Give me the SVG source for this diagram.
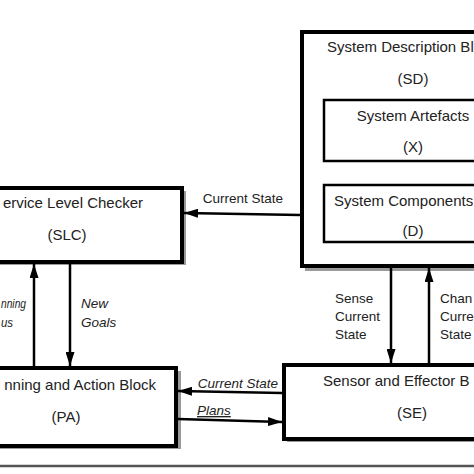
<svg xmlns="http://www.w3.org/2000/svg" width="474" height="474" viewBox="0 0 474 474">
<defs>
<marker id="ah" markerWidth="14" markerHeight="9" refX="14" refY="4.5" orient="auto" markerUnits="userSpaceOnUse">
<path d="M0,0 L14,4.5 L0,9 Z" fill="#000"/>
</marker>
<style>
.box{fill:#fff;stroke:#000;stroke-width:4}
.inner{fill:#fff;stroke:#000;stroke-width:2.5}
.sh{fill:#9a9a9a}
.t{font-family:"Liberation Sans",Arial,sans-serif;font-size:15px;fill:#222;text-anchor:middle}
.s{text-anchor:start}
.e{text-anchor:end}
.l{font-family:"Liberation Sans",Arial,sans-serif;font-size:13.5px;fill:#222}
.i{font-style:italic}
.c{fill:none;stroke:#000;stroke-width:2.5}
</style>
</defs>
<rect width="474" height="474" fill="#fff"/>
<g id="SD">
<rect class="sh" x="305" y="34" width="180" height="237"/>
<rect class="box" x="302" y="32" width="180" height="234"/>
<text class="t s" x="327" y="52">System Description Bl</text>
<text class="t" x="413" y="84">(SD)</text>
</g>
<g id="X">
<rect class="inner" x="324" y="100" width="160" height="61"/>
<text class="t" x="413" y="121">System Artefacts</text>
<text class="t" x="413" y="152">(X)</text>
</g>
<g id="D">
<rect class="inner" x="324" y="185" width="160" height="57"/>
<text class="t s" x="334" y="206">System Components</text>
<text class="t" x="413" y="236">(D)</text>
</g>
<g id="SLC">
<rect class="sh" x="-10" y="191" width="196" height="74"/>
<rect class="box" x="-12" y="188" width="194" height="74"/>
<text class="t e" x="143" y="208">ervice Level Checker</text>
<text class="t" x="67" y="240">(SLC)</text>
</g>
<g id="PA">
<rect class="sh" x="-10" y="371" width="191" height="78"/>
<rect class="box" x="-12" y="368" width="188" height="78"/>
<text class="t e" x="156" y="390">nning and Action Block</text>
<text class="t" x="66" y="422">(PA)</text>
</g>
<g id="SE">
<rect class="sh" x="287" y="368" width="200" height="74"/>
<rect class="box" x="284" y="365" width="200" height="74"/>
<text class="t s" x="323" y="386">Sensor and Effector B</text>
<text class="t" x="412" y="418">(SE)</text>
</g>
<g id="connectors">
<line class="c" x1="300" y1="215" x2="184" y2="213" marker-end="url(#ah)"/>
<line class="c" x1="34" y1="366" x2="34" y2="264" marker-end="url(#ah)"/>
<line class="c" x1="70" y1="264" x2="70" y2="366" marker-end="url(#ah)"/>
<line class="c" x1="391" y1="268" x2="391" y2="363" marker-end="url(#ah)"/>
<line class="c" x1="429" y1="363" x2="429" y2="268" marker-end="url(#ah)"/>
<line class="c" x1="282" y1="393" x2="178" y2="391" marker-end="url(#ah)"/>
<line class="c" x1="178" y1="419" x2="282" y2="422" marker-end="url(#ah)"/>
</g>
<g id="labels">
<text class="l" x="243" y="203" text-anchor="middle">Current State</text>
<text class="l i" x="1" y="308" textLength="25" lengthAdjust="spacingAndGlyphs">nning</text>
<text class="l i" x="1" y="327" textLength="12" lengthAdjust="spacingAndGlyphs">us</text>
<text class="l i" x="81" y="308">New</text>
<text class="l i" x="81" y="327">Goals</text>
<text class="l" x="335" y="303">Sense</text>
<text class="l" x="335" y="321">Current</text>
<text class="l" x="335" y="339">State</text>
<text class="l" x="440" y="303">Chan</text>
<text class="l" x="440" y="321">Curre</text>
<text class="l" x="440" y="339">State</text>
<text class="l i" x="238" y="388" text-anchor="middle">Current State</text>
<text class="l i" x="197" y="415" text-decoration="underline">Plans</text>
</g>
<line x1="0" y1="466" x2="474" y2="466" stroke="#555" stroke-width="2.5"/>
</svg>
